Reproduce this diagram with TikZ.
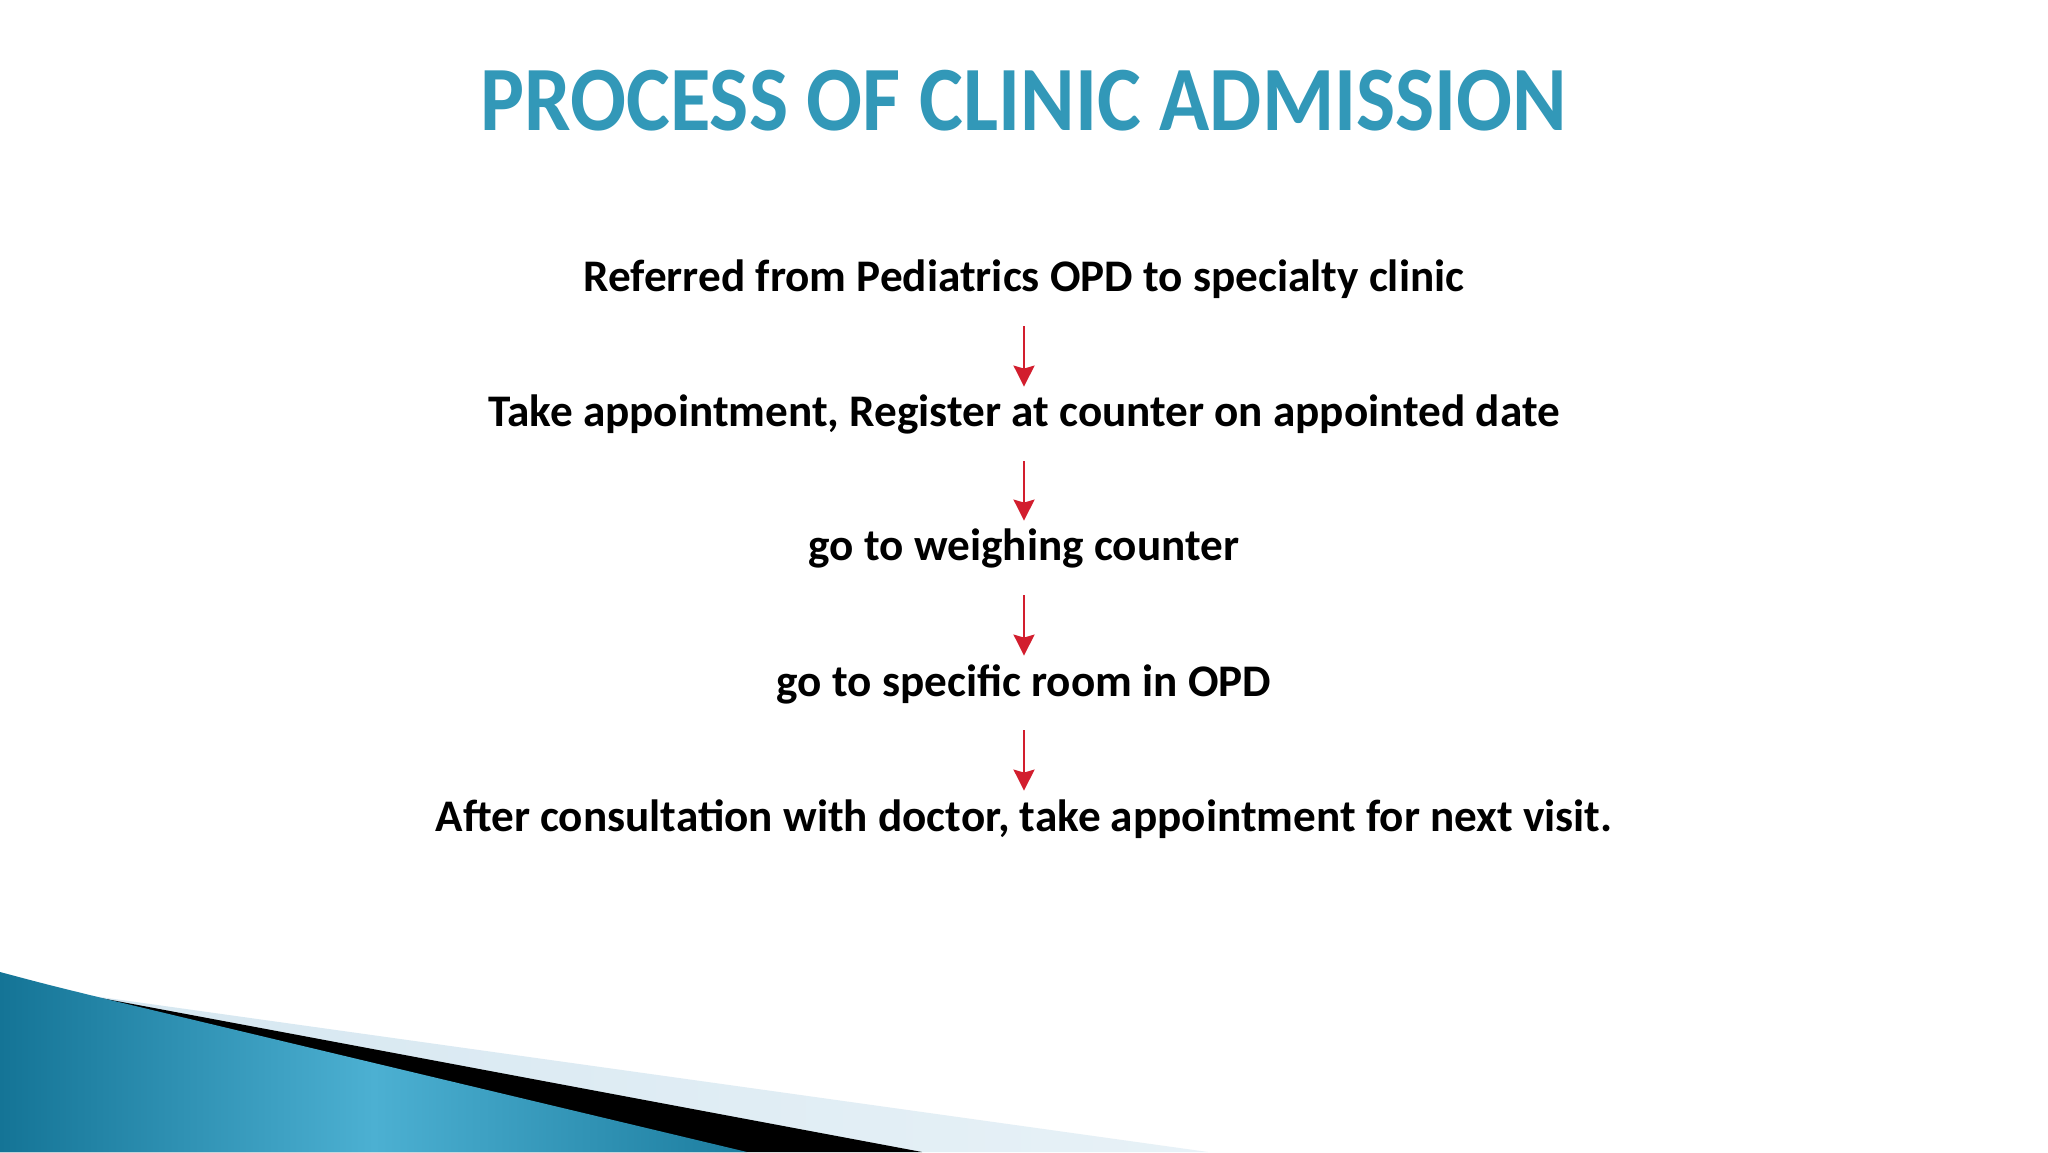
\documentclass[tikz,border=0pt]{standalone}
\usepackage{fontspec}
\setmainfont{Carlito}
\usepackage{graphicx}
\usetikzlibrary{arrows.meta,positioning}
\definecolor{titleteal}{RGB}{50,152,184}
\definecolor{arrowred}{RGB}{210,30,46}
\definecolor{swoopdark}{RGB}{20,116,150}
\definecolor{swooplight}{RGB}{76,176,210}
\definecolor{bandlight}{RGB}{212,230,240}
\begin{document}
\begin{tikzpicture}[x=0.5pt,y=0.5pt]
		\tikzstyle step_text=[inner sep=0pt,text height=16pt,text depth=5pt,font=\fontsize{22.6}{26}\selectfont\bfseries];
		\tikzstyle flow_arrow=[arrowred,line width=1.1pt,-{Stealth[length=10.5pt,width=10.5pt,inset=1.5pt]},shorten <=12pt,shorten >=4pt];
		\useasboundingbox (0,0) rectangle (2048,1152);
		\fill[white] (0,0) rectangle (2048,1152);

		%TITLE
		\node[anchor=base,inner sep=0pt,text=titleteal,font=\fontsize{46}{50}\selectfont\bfseries] (title) at (1024,1021)
			{\scalebox{0.9}[1]{PROCESS OF CLINIC ADMISSION}};

		%STEPS OF THE PROCESS
		\node[step_text,anchor=base] (s1) at (1024,860) {Referred from Pediatrics OPD to specialty clinic};
		\node[step_text,anchor=base] (s2) at (1024,725) {Take appointment, Register at counter on appointed date};
		\node[step_text,anchor=base] (s3) at (1024,591) {go to weighing counter};
		\node[step_text,anchor=base] (s4) at (1024,456) {go to specific room in OPD};
		\node[step_text,anchor=base] (s5) at (1024,321) {After consultation with doctor, take appointment for next visit.};

		%ARROWS
		\foreach \a/\b in {s1/s2,s2/s3,s3/s4,s4/s5}
			\draw[flow_arrow] (\a.south) -- (\b.north);

		%BOTTOM SWOOSH
		\shade[left color=bandlight, right color=bandlight!55] (0,169) -- (1208,0) -- (0,0) -- cycle;
		\fill[black] (0,171) -- (106,153) -- (922,0) -- (0,0) -- cycle;
		\shade[left color=swoopdark, right color=swoopdark!85!swooplight, middle color=swooplight]
			(0,180) .. controls (45,168) .. (106,153) -- (747,0) -- (0,0) -- cycle;
\end{tikzpicture}
\end{document}
